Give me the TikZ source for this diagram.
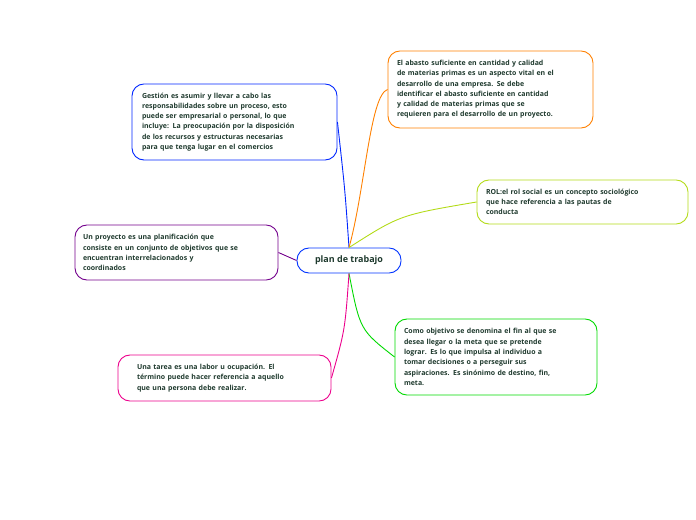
\documentclass[tikz,border=0pt]{standalone}
\usepackage{fontspec}
\setmainfont{Open Sans}
\definecolor{txt}{HTML}{1F3A2E}
\begin{document}
\begin{tikzpicture}[x=1bp,y=-1bp,
  box/.style={draw,line width=0.9pt,rounded corners=12pt,text=txt,align=left,font=\fontsize{7pt}{10.3pt}\selectfont\bfseries,inner sep=0pt},
  link/.style={line width=0.9pt}]
\useasboundingbox (0,0) rectangle (696,520);
\node[box,draw=blue!80!cyan,minimum width=104bp,minimum height=25bp,align=center,font=\fontsize{9pt}{11pt}\selectfont\bfseries] (c) at (349,260.5) {plan de trabajo};
\node[box,draw=blue!85!cyan,minimum width=205bp,minimum height=76bp,text width=185bp] (g) at (234.5,122) {Gestión es asumir y llevar a cabo las\\responsabilidades sobre un proceso, esto\\puede ser empresarial o personal, lo que\\incluye: La preocupación por la disposición\\de los recursos y estructuras necesarias\\para que tenga lugar en el comercios};
\node[box,draw=orange,minimum width=205bp,minimum height=77bp,text width=187bp] (a) at (490.5,89.5) {El abasto suficiente en cantidad y calidad\\de materias primas es un aspecto vital en el\\desarrollo de una empresa. Se debe\\identificar el abasto suficiente en cantidad\\y calidad de materias primas que se\\requieren para el desarrollo de un proyecto.};
\node[box,draw=yellow!70!green,minimum width=211bp,minimum height=44bp,text width=193bp] (r) at (582.5,202) {ROL:el rol social es un concepto sociológico\\que hace referencia a las pautas de\\conducta};
\node[box,draw=green!85!black,minimum width=202bp,minimum height=76bp,text width=184bp] (o) at (496,357) {Como objetivo se denomina el fin al que se\\desea llegar o la meta que se pretende\\lograr. Es lo que impulsa al individuo a\\tomar decisiones o a perseguir sus\\aspiraciones. Es sinónimo de destino, fin,\\meta.};
\node[box,draw=violet!90!blue,minimum width=203bp,minimum height=55bp,text width=187bp] (p) at (176.5,252.5) {Un proyecto es una planificación que\\consiste en un conjunto de objetivos que se\\encuentran interrelacionados y\\coordinados};
\node[box,draw=magenta,minimum width=213bp,minimum height=46bp,text width=175bp] (t) at (224.5,378) {Una tarea es una labor u ocupación. El\\término puede hacer referencia a aquello\\que una persona debe realizar.};
\draw[link,blue!85!cyan] (c.north) .. controls (345,190) .. (g.east);
\draw[link,orange] (c.north) .. controls (365,190) and (370,95) .. (a.west);
\draw[link,yellow!70!green] (c.north) .. controls (400,215) .. (r.west);
\draw[link,green!85!black] (c.south) .. controls (360,330) .. (o.west);
\draw[link,violet!90!blue] (c.west) -- (p.east);
\draw[link,magenta] (c.south) .. controls (345,330) .. (t.east);
\end{tikzpicture}
\end{document}
